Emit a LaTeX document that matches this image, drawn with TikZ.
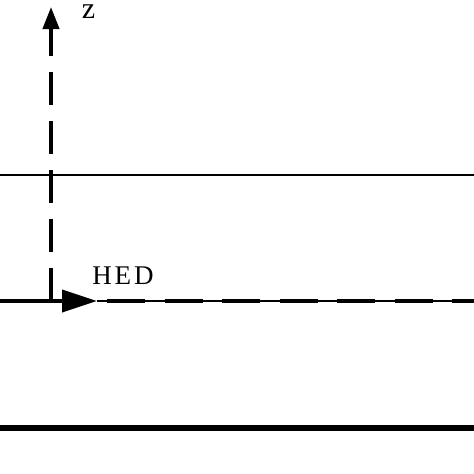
\documentclass[tikz,border=0pt]{standalone}
\usepackage{fontspec}
\setmainfont{Liberation Serif}
\usetikzlibrary{arrows.meta}

\begin{document}
\begin{tikzpicture}[x=1pt,y=-1pt,
        zaxis/.style={line width=4pt,dash pattern=on 33pt off 16pt,
            -{Triangle[length=22pt,width=16pt]}},
        dipole/.style={line width=4pt,-{Triangle[length=35pt,width=22pt]}},
        layer/.style={line width=1.5pt},
        ground/.style={line width=6pt},
        lbl/.style={inner sep=0pt,font=\fontsize{27}{30}\selectfont}
    ]
        \useasboundingbox (0,0) rectangle (474,474);
        % points
        \coordinate (origin) at (51,301);
        \coordinate (ztip) at (51,7);
        \coordinate (dleft) at (0,301);
        \coordinate (dtip) at (97,301);
        \coordinate (dright) at (474,301);
        \coordinate (ileft) at (0,175);
        \coordinate (iright) at (474,175);
        \coordinate (gleft) at (0,428);
        \coordinate (gright) at (474,428);
        % interface and ground
        \draw[layer] (ileft) -- (iright);
        \draw[ground] (gleft) -- (gright);
        % z axis
        \draw[zaxis] (origin) -- (ztip);
        \node[lbl,font=\fontsize{30}{32}\selectfont] (zlabel) at (88.5,11.5) {z};
        % dipole
        \draw[dipole] (dleft) -- (dtip);
        \draw[line width=2pt] (dtip) -- (dright);
        \draw[line width=4pt,dash pattern=on 38pt off 19.5pt,dash phase=47.5pt] (dtip) -- (dright);
        \node[lbl] (hed) at (123,276) {H\kern3pt E\kern3pt D};
\end{tikzpicture}
\end{document}
